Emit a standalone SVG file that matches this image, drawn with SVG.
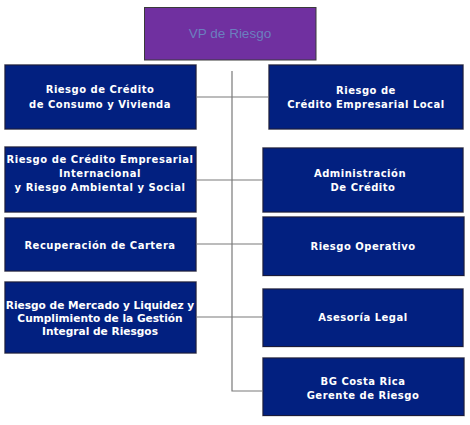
<svg xmlns="http://www.w3.org/2000/svg" width="470" height="425" viewBox="0 0 470 425">
<style>
.bx{fill:#022080;stroke:#1a1a3a;stroke-width:1}
.sh{fill:none;stroke:#c4c4c4;stroke-width:1}
.t{font-family:"DejaVu Sans",Verdana,sans-serif;font-weight:bold;font-size:10px;fill:#ffffff;text-anchor:middle}
.t2{font-family:"DejaVu Sans",Verdana,sans-serif;font-weight:bold;font-size:10.6px;fill:#ffffff;text-anchor:middle}
.c{stroke:#7a7a7a;stroke-width:1.2;fill:none}
</style>
<rect width="470" height="425" fill="#ffffff"/>
<g id="connectors">
<path class="c" d="M232 71 V391 H263"/>
<path class="c" d="M196 97 H269"/>
<path class="c" d="M196 180 H263"/>
<path class="c" d="M196 244 H263"/>
<path class="c" d="M196 317 H263"/>
</g>
<g id="vp">
<rect x="144.5" y="7.5" width="171.5" height="52.5" fill="#7030A0" stroke="#3a3a3a" stroke-width="1"/>
<text x="230" y="38" style="font-family:'Liberation Sans',Arial,sans-serif;font-size:13.5px;fill:#6B7FBF;text-anchor:middle">VP de Riesgo</text>
</g>
<g id="l1">
<rect class="sh" x="4.5" y="64.5" width="192" height="65"/>
<rect class="bx" x="5" y="65" width="191" height="64"/>
<text class="t" x="100" y="93" letter-spacing="0.5">Riesgo de Crédito</text>
<text class="t" x="100" y="108" letter-spacing="0.5">de Consumo  y  Vivienda</text>
</g>
<g id="l2">
<rect class="sh" x="4.5" y="146.5" width="192" height="66"/>
<rect class="bx" x="5" y="147" width="191" height="65"/>
<text class="t" x="100" y="163" letter-spacing="0.55">Riesgo de Crédito Empresarial</text>
<text class="t" x="100" y="177" letter-spacing="0.55">Internacional</text>
<text class="t" x="100" y="191" letter-spacing="0.55">y Riesgo  Ambiental  y Social</text>
</g>
<g id="l3">
<rect class="sh" x="4.5" y="217.5" width="192" height="54"/>
<rect class="bx" x="5" y="218" width="191" height="53"/>
<text class="t" x="100" y="249" letter-spacing="0.5">Recuperación  de  Cartera</text>
</g>
<g id="l4">
<rect class="sh" x="4.5" y="281.5" width="192" height="72"/>
<rect class="bx" x="5" y="282" width="191" height="71"/>
<text class="t2" x="100" y="309">Riesgo de  Mercado y Liquidez y</text>
<text class="t2" x="100" y="322">Cumplimiento de la Gestión</text>
<text class="t2" x="100" y="335">Integral de Riesgos</text>
</g>
<g id="r1">
<rect class="sh" x="268.5" y="64.5" width="195" height="65"/>
<rect class="bx" x="269" y="65" width="194" height="64"/>
<text class="t" x="366" y="94" letter-spacing="0.5">Riesgo de</text>
<text class="t" x="366" y="108" letter-spacing="0.5">Crédito Empresarial Local</text>
</g>
<g id="r2">
<rect class="sh" x="262.5" y="147.5" width="201" height="65"/>
<rect class="bx" x="263" y="148" width="200" height="64"/>
<text class="t" x="360" y="177" letter-spacing="0.5">Administración</text>
<text class="t" x="363" y="191" letter-spacing="0.5">De Crédito</text>
</g>
<g id="r3">
<rect class="sh" x="262.5" y="216.5" width="202" height="59.5"/>
<rect class="bx" x="263" y="217" width="201" height="58.5"/>
<text class="t" x="363" y="250" letter-spacing="0.5">Riesgo Operativo</text>
</g>
<g id="r4">
<rect class="sh" x="262.5" y="288.5" width="201" height="58.5"/>
<rect class="bx" x="263" y="289" width="200" height="57.5"/>
<text class="t" x="363" y="321" letter-spacing="0.5">Asesoría Legal</text>
</g>
<g id="r5">
<rect class="sh" x="262.5" y="357.5" width="202" height="58.5"/>
<rect class="bx" x="263" y="358" width="201" height="57.5"/>
<text class="t" x="363" y="385" letter-spacing="0.5">BG Costa Rica</text>
<text class="t" x="363" y="399" letter-spacing="0.5">Gerente de Riesgo</text>
</g>
</svg>
